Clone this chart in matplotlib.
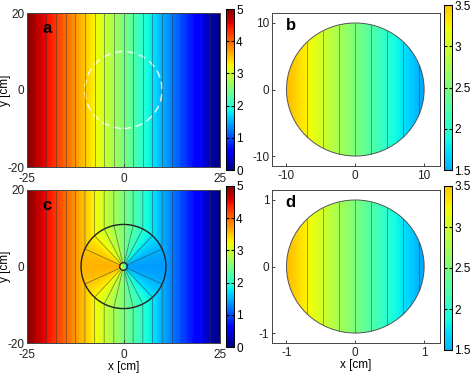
import numpy as np
import matplotlib
matplotlib.use("Agg")
import matplotlib.pyplot as plt
from matplotlib.patches import Circle

plt.rcParams['font.family'] = ['Liberation Sans', 'DejaVu Sans']
plt.rcParams['font.size'] = 8.5
plt.rcParams['axes.unicode_minus'] = False

# ---- data ----
# background potential: linear in x, value at left and right edge
bg_x = [-25.0, 25.0]
bg_v = [5.0, 0.0]
big_xlim = [-25, 25]
big_ylim = [-20, 20]
big_xticks = [-25, 0, 25]
big_yticks = [-20, 0, 20]
big_cticks = [0, 1, 2, 3, 4, 5]
level_step = 0.25
circle_r_a = 10.0          # dashed circle in a
circle_r_c = 11.0          # inclusion in c
inner_r_c = 1.0            # small central electrode in c

# interior uniform field (b, d): potential at left/right edge of circle
in_x_b = [-10.0, 10.0]
in_v = [3.58, 1.42]
b_ticks = [-10, 0, 10]
d_ticks = [-1, 0, 1]
small_cticks = [1.5, 2, 2.5, 3, 3.5]
small_levels = [1.5, 1.75, 2.0, 2.25, 2.5, 2.75, 3.0, 3.25]

W, H = 474, 374
fig = plt.figure(figsize=(W / 100, H / 100), dpi=100)

def ax_rect(l, t, r, b):
    return [l / W, 1 - b / H, (r - l) / W, (b - t) / H]

cmap = plt.get_cmap('jet')
line_kw = dict(colors='#333333', linewidths=0.6, alpha=0.55)

def style_axes(ax, xpad=2):
    for s in ax.spines.values():
        s.set_linewidth(0.7)
        s.set_color('#444444')
    ax.tick_params(direction='in', length=2.5, width=0.6, pad=2, colors='#222222', labelsize=8.5)
    ax.tick_params(axis='x', pad=xpad)

def add_cbar(mappable, rect, ticks, labels):
    cax = fig.add_axes(ax_rect(*rect))
    cb = fig.colorbar(mappable, cax=cax, ticks=ticks)
    cb.ax.set_yticklabels(labels)
    cb.outline.set_linewidth(0.7)
    cb.ax.tick_params(direction='in', length=2, width=0.8, pad=1.5, labelsize=8.5, left=True, right=True)
    return cb

# grid for big panels
xg = np.linspace(big_xlim[0], big_xlim[1], 501)
yg = np.linspace(big_ylim[0], big_ylim[1], 401)
X, Y = np.meshgrid(xg, yg)
V_bg = np.interp(X, bg_x, bg_v)
big_levels = np.arange(level_step, 5.0, level_step)

# ---------- panel a ----------
axa = fig.add_axes(ax_rect(27, 13, 220, 167))
ma = axa.pcolormesh(X, Y, V_bg, cmap=cmap, vmin=0, vmax=5, shading='auto', rasterized=True)
axa.contour(X, Y, V_bg, levels=big_levels, **line_kw)
axa.add_patch(Circle((0, 0), circle_r_a, fill=False, ec='white', lw=1.1, ls=(0, (5, 3)), alpha=0.85))
axa.set_xlim(big_xlim); axa.set_ylim(big_ylim)
axa.set_xticks(big_xticks); axa.set_yticks(big_yticks)
axa.set_ylabel('y [cm]')
axa.yaxis.set_label_coords(-0.085, 0.5)
axa.text(0.08, 0.95, 'a', transform=axa.transAxes, fontsize=12, fontweight='bold', va='top', ha='left')
style_axes(axa, xpad=4.5)
add_cbar(ma, (226, 9, 234, 170), big_cticks, [str(t) for t in big_cticks])

# ---------- panel c ----------
R = np.hypot(X, Y)
TH = np.arctan2(Y, X)
V_c = V_bg.copy()
ring = (R <= circle_r_c) & (R >= inner_r_c)
V_c[ring] = np.interp(circle_r_c * np.cos(TH[ring]), bg_x, bg_v)
inner = R < inner_r_c
V_c[inner] = np.interp(X[inner] * circle_r_c, bg_x, bg_v)
axc = fig.add_axes(ax_rect(27, 190, 220, 343))
mc = axc.pcolormesh(X, Y, V_c, cmap=cmap, vmin=0, vmax=5, shading='auto', rasterized=True)
V_c_lines = np.ma.masked_where(R < inner_r_c * 1.05, V_c)
axc.contour(X, Y, V_c_lines, levels=big_levels, **line_kw)
axc.add_patch(Circle((0, 0), circle_r_c, fill=False, ec='#222222', lw=1.0))
axc.add_patch(Circle((0, 0), inner_r_c, fill=False, ec='#222222', lw=1.0))
axc.set_xlim(big_xlim); axc.set_ylim(big_ylim)
axc.set_xticks(big_xticks); axc.set_yticks(big_yticks)
axc.set_ylabel('y [cm]')
axc.yaxis.set_label_coords(-0.085, 0.5)
axc.set_xlabel('x [cm]', labelpad=0)
axc.text(0.08, 0.95, 'c', transform=axc.transAxes, fontsize=12, fontweight='bold', va='top', ha='left')
style_axes(axc, xpad=4.5)
add_cbar(mc, (226, 186, 234, 347), big_cticks, [str(t) for t in big_cticks])

# ---------- panels b, d ----------
def small_panel(rect, scale, ticks, letter, cbrect, xlabel=None):
    ax = fig.add_axes(ax_rect(*rect))
    r = 10.0 * scale
    xs = np.linspace(-r, r, 401)
    XS, YS = np.meshgrid(xs, xs)
    VS = np.interp(XS / scale, in_x_b, in_v)
    VS = np.ma.masked_where(np.hypot(XS, YS) > r, VS)
    ax.pcolormesh(XS, YS, VS, cmap=cmap, vmin=0, vmax=5, shading='auto', rasterized=True)
    ax.contour(XS, YS, VS, levels=small_levels, **line_kw)
    ax.add_patch(Circle((0, 0), r, fill=False, ec='#555555', lw=0.7))
    ax.set_xlim(-12.1 * scale, 12.3 * scale)
    ax.set_ylim(-11.5 * scale, 11.5 * scale)
    ax.set_xticks(ticks); ax.set_yticks(ticks)
    ax.set_xticklabels([str(t) for t in ticks]); ax.set_yticklabels([str(t) for t in ticks])
    ax.text(0.08, 0.965, letter, transform=ax.transAxes, fontsize=12, fontweight='bold', va='top', ha='left')
    if xlabel:
        ax.set_xlabel(xlabel, labelpad=0)
    style_axes(ax, xpad=3)
    # colorbar showing slice of jet between 1.5 and 3.5
    sm = plt.cm.ScalarMappable(cmap=matplotlib.colors.ListedColormap(cmap(np.linspace(0.3, 0.7, 256))),
                               norm=matplotlib.colors.Normalize(1.5, 3.5))
    add_cbar(sm, cbrect, small_cticks, ['1.5', '2', '2.5', '3', '3.5'])
    return ax

small_panel((272, 13, 440, 166), 1.0, b_ticks, 'b', (444, 5, 452, 170))
small_panel((272, 190, 440, 343), 0.1, d_ticks, 'd', (444, 186, 452, 350), xlabel='x [cm]')

fig.savefig('out.png', dpi=100)
